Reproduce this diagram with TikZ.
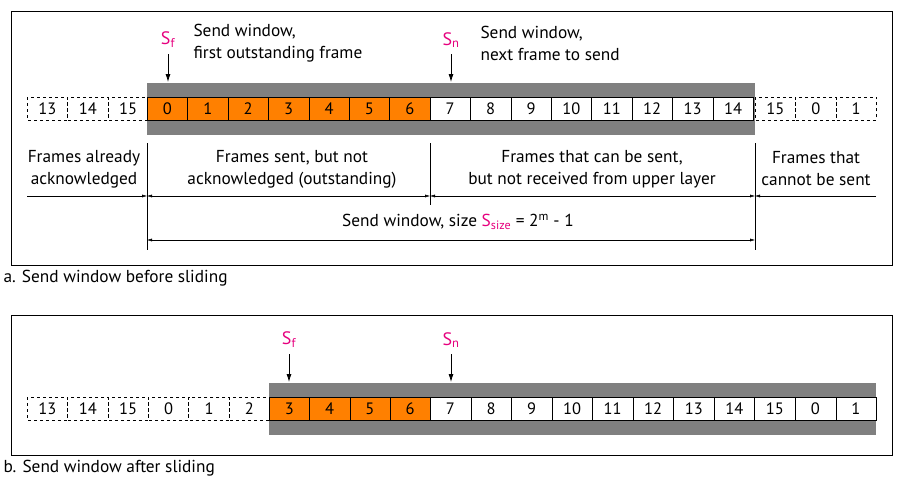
\documentclass[tikz,border=0pt]{standalone}
\usepackage{fontspec}
\setmainfont{PT Sans}
\usetikzlibrary{arrows.meta}
\definecolor{mag}{RGB}{230,0,126}
\definecolor{org}{RGB}{255,128,0}
\definecolor{gbar}{RGB}{128,128,128}
\tikzset{
 cellw/.style={draw,fill=white,minimum width=40.4pt,minimum height=23pt,inner sep=0pt,font=\fontsize{16.5}{18}\selectfont,anchor=west},
 cello/.style={cellw,fill=org},
 celld/.style={cellw,draw=none,fill=none},
 lbl/.style={font=\fontsize{17.3}{22}\selectfont,align=center},
 sym/.style={font=\fontsize{18}{20}\selectfont,text=mag},
 dim/.style={{Latex[length=5pt,width=3pt]}-{Latex[length=5pt,width=3pt]},thin},
 ptr/.style={-{Latex[length=8pt,width=5pt]},thick},
}
\newcommand{\Sx}[1]{S\textsubscript{#1}}
\begin{document}
\begin{tikzpicture}[x=1pt,y=-1pt]
\useasboundingbox (0,0) rectangle (903,491);
% ---------- a ----------
\draw[thick] (11,11) rectangle (892,265);
\fill[gbar] (147,83) rectangle (755,135);
\foreach \n [count=\i from 0] in {13,14,15}{
  \node[celld] (ad\i) at (27+40.4*\i,108.5) {\n};
  \draw[dashed] (27+40.4*\i,97) rectangle ++(40.4,23);}
\foreach \n [count=\i from 0] in {0,...,6}{
  \node[cello] (ac\i) at (147+40.4*\i,108.5) {\n};}
\foreach \n [count=\i from 7] in {7,...,14}{
  \node[cellw] (ac\i) at (147+40.4*\i-0.0,108.5) {\n};}
\foreach \n [count=\i from 0] in {15,0,1}{
  \node[celld] (ae\i) at (755+40.4*\i,108.5) {\n};
  \draw[dashed] (755+40.4*\i,97) rectangle ++(40.4,23);}
\node[sym] (sf) at (168,40) {\Sx{f}};
\coordinate (sfa) at (168,82);
\draw[ptr] (sf.south) ++(0,3) -- (sfa);
\node[lbl,align=left,anchor=west] (tf) at (190,43) {Send window,\\first outstanding frame};
\node[sym] (sn) at (451,40) {\Sx{n}};
\coordinate (sna) at (451,82);
\draw[ptr] (sn.south) ++(0,3) -- (sna);
\node[lbl,align=left,anchor=west] (tn) at (477,43) {Send window,\\next frame to send};
\coordinate (v1t) at (147,143); \coordinate (v1b) at (147,250);
\coordinate (v2t) at (430,143); \coordinate (v2b) at (430,205);
\coordinate (v3t) at (755,143); \coordinate (v3b) at (755,250);
\draw (v1t)--(v1b); \draw (v2t)--(v2b); \draw (v3t)--(v3b);
\coordinate (l0) at (27,196); \coordinate (l1) at (147,196); \coordinate (l2) at (430,196);
\coordinate (l3) at (755,196); \coordinate (l4) at (876,196);
\draw[-{Latex[length=5pt,width=3pt]},thin] (l0)--(l1);
\draw[dim] (l1)--(l2);
\draw[dim] (l2)--(l3);
\draw[-{Latex[length=5pt,width=3pt]},thin] (l4)--(l3);
\node[lbl] (t1) at (84,169) {Frames already\\acknowledged};
\node[lbl] (t2) at (292,169) {Frames sent, but not\\acknowledged (outstanding)};
\node[lbl] (t3) at (592,169) {Frames that can be sent,\\but not received from upper layer};
\node[lbl] (t4) at (816,169) {Frames that\\cannot be sent};
\coordinate (w1) at (147,240); \coordinate (w2) at (755,240);
\draw[dim] (w1)--(w2);
\node[lbl] (tw) at (458,222) {Send window, size \textcolor{mag}{\Sx{size}} = 2\textsuperscript{m} - 1};
\node[lbl,anchor=west] (ca) at (0,278) {a. Send window before sliding};
% ---------- b ----------
\draw[thick] (11,315) rectangle (892,455);
\fill[gbar] (269,383) rectangle (876,435);
\foreach \n [count=\i from 0] in {13,14,15,0,1,2}{
  \node[celld] (bd\i) at (27+40.4*\i,408.5) {\n};
  \draw[dashed] (27+40.4*\i,397) rectangle ++(40.4,23);}
\foreach \n [count=\i from 0] in {3,4,5,6}{
  \node[cello] (bc\i) at (269+40.25*\i,408.5) {\n};}
\foreach \n [count=\i from 0] in {7,...,15,0,1}{
  \node[cellw,minimum width=40.55pt] (bw\i) at (430+40.55*\i,408.5) {\n};}
\node[sym] (bsf) at (289,340) {\Sx{f}};
\coordinate (bsfa) at (289,382);
\draw[ptr] (bsf.south) ++(0,3) -- (bsfa);
\node[sym] (bsn) at (451,340) {\Sx{n}};
\coordinate (bsna) at (451,382);
\draw[ptr] (bsn.south) ++(0,3) -- (bsna);
\node[lbl,anchor=west] (cb) at (0,468) {b. Send window after sliding};
\end{tikzpicture}
\end{document}
